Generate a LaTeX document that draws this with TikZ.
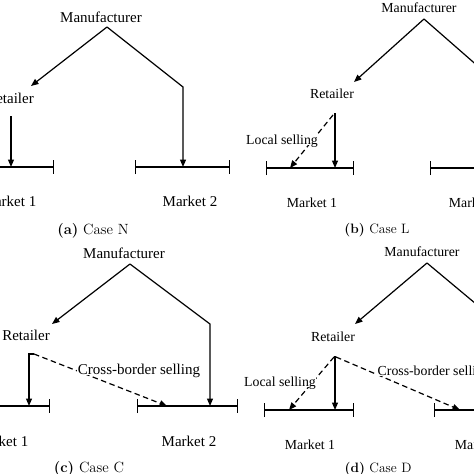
\documentclass[tikz,border=0pt]{standalone}
\usepackage{fontspec}
\newfontfamily\tnr{Liberation Serif}
\usetikzlibrary{arrows.meta}
\tikzset{
  lbl/.style={font=\tnr\fontsize{15}{18}\selectfont, inner sep=0pt, text depth=0pt},
  lblr/.style={font=\tnr\fontsize{13.8}{16}\selectfont, inner sep=0pt, text depth=0pt},
  captxt/.style={font=\fontsize{14.8}{17}\selectfont, inner sep=0pt, text depth=0pt},
  captxtr/.style={font=\fontsize{13.6}{16}\selectfont, inner sep=0pt, text depth=0pt},
  plainline/.style={line width=1.2pt},
  link/.style={line width=1.2pt, -{Triangle[length=7.5pt,width=6pt]}},
  dashlink/.style={line width=1.2pt, dash pattern=on 5.5pt off 3.5pt, -{Triangle[length=7.5pt,width=6pt]}},
  market/.style={line width=1.2pt, {Bar[width=14pt]}-{Bar[width=14pt]}},
}
\begin{document}
\begin{tikzpicture}[x=1pt,y=-1pt]
\useasboundingbox (0,0) rectangle (474,474);
\clip (0,0) rectangle (474,474);
% ---------- (a) Case N ----------
\node[lbl] (aMt) at (101,17) {Manufacturer};
\coordinate (aM) at (107,27);
\node[lbl] (aR) at (10,98) {Retailer};
\coordinate (aRin) at (31,86);
\coordinate (aC) at (183,87);
\coordinate (aRtop) at (11,116);
\coordinate (a1L) at (-41,167);
\coordinate (a1R) at (54,167);
\coordinate (a2L) at (135,167);
\coordinate (a2R) at (230,167);
\coordinate (a1m) at (11,167);
\coordinate (a2m) at (183,167);
\draw[link] (aM) -- (aRin);
\draw[link] (aM) -- (aC) -- (a2m);
\draw[link] (aRtop) -- (a1m);
\draw[market] (a1L) -- (a1R);
\draw[market] (a2L) -- (a2R);
\node[lbl] (aL1) at (9,201) {Market 1};
\node[lbl] (aL2) at (190,201) {Market 2};
\node[captxt] (acap) at (93,229) {\textbf{(a)} Case N};
% ---------- (b) Case L ----------
\node[lblr] (bMt) at (419,8) {Manufacturer};
\coordinate (bM) at (424,19);
\node[lblr] (bR) at (332,94) {Retailer};
\coordinate (bRin) at (354,82);
\coordinate (bC) at (496,82);
\coordinate (bRtop) at (335,113);
\coordinate (bDs) at (333,115);
\coordinate (b1L) at (266,168);
\coordinate (b1R) at (354,168);
\coordinate (b2L) at (430,168);
\coordinate (b2R) at (518,168);
\coordinate (b1m) at (335,168);
\coordinate (b1d) at (290,168);
\draw[link] (bM) -- (bRin);
\draw[plainline] (bM) -- (bC);
\draw[link] (bRtop) -- (b1m);
\draw[dashlink] (bDs) -- (b1d);
\draw[market] (b1L) -- (b1R);
\draw[market] (b2L) -- (b2R);
\node[lblr,fill=white,inner sep=0.5pt] (bLs) at (282,140) {Local selling};
\node[lblr] (bL1) at (312,203) {Market 1};
\node[lblr] (bL2) at (474,203) {Market 2};
\node[captxtr] (bcap) at (377,228) {\textbf{(b)} Case L};
% ---------- (c) Case C ----------
\node[lbl] (cMt) at (124,253) {Manufacturer};
\coordinate (cM) at (130,264);
\node[lbl] (cR) at (26,335) {Retailer};
\coordinate (cRin) at (52,324);
\coordinate (cC) at (210,324);
\coordinate (cRtop) at (29,354);
\coordinate (cHook) at (34,354);
\coordinate (c1L) at (-45,406);
\coordinate (c1R) at (50,406);
\coordinate (c2L) at (137,406);
\coordinate (c2R) at (238,406);
\coordinate (c1m) at (29,406);
\coordinate (c2m) at (210,406);
\coordinate (c2d) at (167,406);
\draw[link] (cM) -- (cRin);
\draw[link] (cM) -- (cC) -- (c2m);
\draw[link] (cHook) -- (cRtop) -- (c1m);
\draw[dashlink] (cHook) -- (c2d);
\draw[market] (c1L) -- (c1R);
\draw[market] (c2L) -- (c2R);
\node[lbl,fill=white,inner sep=0.5pt] (cCb) at (139,369) {Cross-border selling};
\node[lbl] (cL1) at (1,441) {Market 1};
\node[lbl] (cL2) at (189,441) {Market 2};
\node[captxt] (ccap) at (89,467) {\textbf{(c)} Case C};
% ---------- (d) Case D ----------
\node[lblr] (dMt) at (422,252) {Manufacturer};
\coordinate (dM) at (427,263);
\node[lblr] (dR) at (333,337) {Retailer};
\coordinate (dRin) at (355,324);
\coordinate (dC) at (500,324);
\coordinate (dRtop) at (335,356);
\coordinate (dDsl) at (334,357);
\coordinate (dDsr) at (336,357);
\coordinate (d1L) at (264,410);
\coordinate (d1R) at (354,410);
\coordinate (d2L) at (434,410);
\coordinate (d2R) at (524,410);
\coordinate (d1m) at (335,410);
\coordinate (d1d) at (289,410);
\coordinate (d2d) at (460,410);
\draw[link] (dM) -- (dRin);
\draw[plainline] (dM) -- (dC);
\draw[link] (dRtop) -- (d1m);
\draw[dashlink] (dDsl) -- (d1d);
\draw[dashlink] (dDsr) -- (d2d);
\draw[market] (d1L) -- (d1R);
\draw[market] (d2L) -- (d2R);
\node[lblr,fill=white,inner sep=0.5pt] (dLs) at (280,382) {Local selling};
\node[lblr,fill=white,inner sep=0.5pt,anchor=west] (dCb) at (377,371) {Cross-border selling};
\node[lblr] (dL1) at (310,445) {Market 1};
\node[lblr] (dL2) at (480,445) {Market 2};
\node[captxtr] (dcap) at (378,467) {\textbf{(d)} Case D};
\end{tikzpicture}
\end{document}
